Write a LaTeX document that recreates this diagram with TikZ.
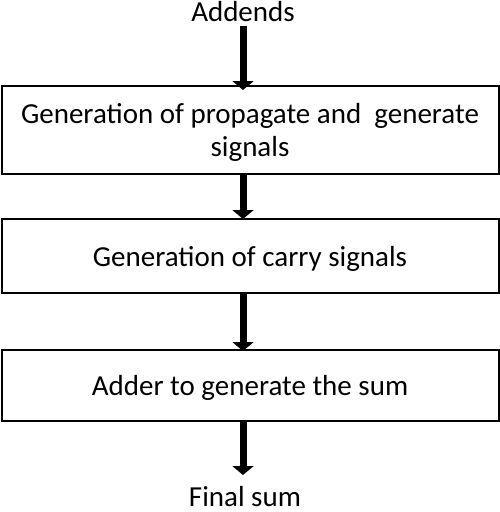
\documentclass[tikz,border=0pt]{standalone}
\usepackage{fontspec}
\setmainfont{Carlito}
\usetikzlibrary{arrows.meta}

\begin{document}
\begin{tikzpicture}[x=1pt,y=-1pt,
        stagebox/.style={draw, line width=2pt, minimum width=497pt, inner sep=0pt, text depth=0pt, align=center,
                font=\fontsize{29}{33}\selectfont},
        endlabel/.style={inner sep=0pt, font=\fontsize{29}{33}\selectfont},
        flow/.style={line width=7pt, -{Triangle[width=21pt,length=9pt]}}]
        \useasboundingbox (0,0) rectangle (500,512);

        \node (addends) at (243,12) [endlabel] {Addends};
        \node (pg) at (250,130) [stagebox, minimum height=88pt] {Generation of propagate and\ \ generate \\ signals};
        \node (carry) at (250,256) [stagebox, minimum height=74pt] {Generation of carry signals};
        \node (adder) at (250,385.5) [stagebox, minimum height=71pt] {Adder to generate the sum};
        \node (sum) at (245,506) [endlabel, anchor=base] {Final sum};

        \draw[flow] ([yshift=-4pt]addends.south) -- ([yshift=-5pt]addends |- pg.north);
        \draw[flow] (addends |- pg.south) -- ([yshift=-1pt]addends |- carry.north);
        \draw[flow] (addends |- carry.south) -- ([yshift=-2pt]addends |- adder.north);
        \draw[flow] (addends |- adder.south) -- (addends |- 0,475);
    \end{tikzpicture}
\end{document}
